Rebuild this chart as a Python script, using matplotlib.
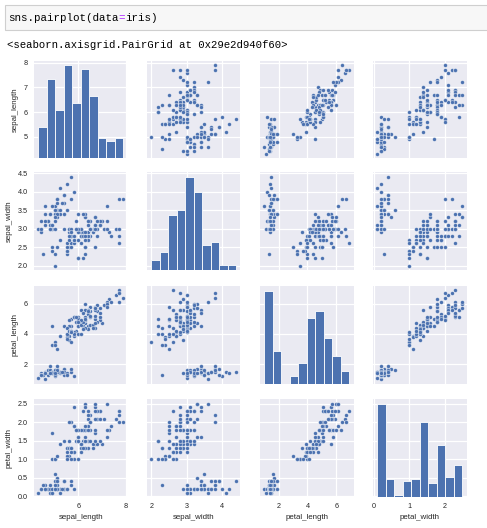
import numpy as np
import matplotlib
matplotlib.use("Agg")
import matplotlib.pyplot as plt
from matplotlib.patches import Rectangle
from matplotlib.ticker import FixedLocator

# ---------------- data (iris) ----------------
variables = ["sepal_length", "sepal_width", "petal_length", "petal_width"]

sepal_length = [
    5.1, 4.9, 4.7, 4.6, 5.0, 5.4, 4.6, 5.0, 4.4, 4.9, 5.4, 4.8, 4.8, 4.3, 5.8, 5.7, 5.4, 5.1, 5.7, 5.1,
    5.4, 5.1, 4.6, 5.1, 4.8, 5.0, 5.0, 5.2, 5.2, 4.7, 4.8, 5.4, 5.2, 5.5, 4.9, 5.0, 5.5, 4.9, 4.4, 5.1,
    5.0, 4.5, 4.4, 5.0, 5.1, 4.8, 5.1, 4.6, 5.3, 5.0,
    7.0, 6.4, 6.9, 5.5, 6.5, 5.7, 6.3, 4.9, 6.6, 5.2, 5.0, 5.9, 6.0, 6.1, 5.6, 6.7, 5.6, 5.8, 6.2, 5.6,
    5.9, 6.1, 6.3, 6.1, 6.4, 6.6, 6.8, 6.7, 6.0, 5.7, 5.5, 5.5, 5.8, 6.0, 5.4, 6.0, 6.7, 6.3, 5.6, 5.5,
    5.5, 6.1, 5.8, 5.0, 5.6, 5.7, 5.7, 6.2, 5.1, 5.7,
    6.3, 5.8, 7.1, 6.3, 6.5, 7.6, 4.9, 7.3, 6.7, 7.2, 6.5, 6.4, 6.8, 5.7, 5.8, 6.4, 6.5, 7.7, 7.7, 6.0,
    6.9, 5.6, 7.7, 6.3, 6.7, 7.2, 6.2, 6.1, 6.4, 7.2, 7.4, 7.9, 6.4, 6.3, 6.1, 7.7, 6.3, 6.4, 6.0, 6.9,
    6.7, 6.9, 5.8, 6.8, 6.7, 6.7, 6.3, 6.5, 6.2, 5.9,
]
sepal_width = [
    3.5, 3.0, 3.2, 3.1, 3.6, 3.9, 3.4, 3.4, 2.9, 3.1, 3.7, 3.4, 3.0, 3.0, 4.0, 4.4, 3.9, 3.5, 3.8, 3.8,
    3.4, 3.7, 3.6, 3.3, 3.4, 3.0, 3.4, 3.5, 3.4, 3.2, 3.1, 3.4, 4.1, 4.2, 3.1, 3.2, 3.5, 3.6, 3.0, 3.4,
    3.5, 2.3, 3.2, 3.5, 3.8, 3.0, 3.8, 3.2, 3.7, 3.3,
    3.2, 3.2, 3.1, 2.3, 2.8, 2.8, 3.3, 2.4, 2.9, 2.7, 2.0, 3.0, 2.2, 2.9, 2.9, 3.1, 3.0, 2.7, 2.2, 2.5,
    3.2, 2.8, 2.5, 2.8, 2.9, 3.0, 2.8, 3.0, 2.9, 2.6, 2.4, 2.4, 2.7, 2.7, 3.0, 3.4, 3.1, 2.3, 3.0, 2.5,
    2.6, 3.0, 2.6, 2.3, 2.7, 3.0, 2.9, 2.9, 2.5, 2.8,
    3.3, 2.7, 3.0, 2.9, 3.0, 3.0, 2.5, 2.9, 2.5, 3.6, 3.2, 2.7, 3.0, 2.5, 2.8, 3.2, 3.0, 3.8, 2.6, 2.2,
    3.2, 2.8, 2.8, 2.7, 3.3, 3.2, 2.8, 3.0, 2.8, 3.0, 2.8, 3.8, 2.8, 2.8, 2.6, 3.0, 3.4, 3.1, 3.0, 3.1,
    3.1, 3.1, 2.7, 3.2, 3.3, 3.0, 2.5, 3.0, 3.4, 3.0,
]
petal_length = [
    1.4, 1.4, 1.3, 1.5, 1.4, 1.7, 1.4, 1.5, 1.4, 1.5, 1.5, 1.6, 1.4, 1.1, 1.2, 1.5, 1.3, 1.4, 1.7, 1.5,
    1.7, 1.5, 1.0, 1.7, 1.9, 1.6, 1.6, 1.5, 1.4, 1.6, 1.6, 1.5, 1.5, 1.4, 1.5, 1.2, 1.3, 1.4, 1.3, 1.5,
    1.3, 1.3, 1.3, 1.6, 1.9, 1.4, 1.6, 1.4, 1.5, 1.4,
    4.7, 4.5, 4.9, 4.0, 4.6, 4.5, 4.7, 3.3, 4.6, 3.9, 3.5, 4.2, 4.0, 4.7, 3.6, 4.4, 4.5, 4.1, 4.5, 3.9,
    4.8, 4.0, 4.9, 4.7, 4.3, 4.4, 4.8, 5.0, 4.5, 3.5, 3.8, 3.7, 3.9, 5.1, 4.5, 4.5, 4.7, 4.4, 4.1, 4.0,
    4.4, 4.6, 4.0, 3.3, 4.2, 4.2, 4.2, 4.3, 3.0, 4.1,
    6.0, 5.1, 5.9, 5.6, 5.8, 6.6, 4.5, 6.3, 5.8, 6.1, 5.1, 5.3, 5.5, 5.0, 5.1, 5.3, 5.5, 6.7, 6.9, 5.0,
    5.7, 4.9, 6.7, 4.9, 5.7, 6.0, 4.8, 4.9, 5.6, 5.8, 6.1, 6.4, 5.6, 5.1, 5.6, 6.1, 5.6, 5.5, 4.8, 5.4,
    5.6, 5.1, 5.1, 5.9, 5.7, 5.2, 5.0, 5.2, 5.4, 5.1,
]
petal_width = [
    0.2, 0.2, 0.2, 0.2, 0.2, 0.4, 0.3, 0.2, 0.2, 0.1, 0.2, 0.2, 0.1, 0.1, 0.2, 0.4, 0.4, 0.3, 0.3, 0.3,
    0.2, 0.4, 0.2, 0.5, 0.2, 0.2, 0.4, 0.2, 0.2, 0.2, 0.2, 0.4, 0.1, 0.2, 0.2, 0.2, 0.2, 0.1, 0.2, 0.2,
    0.3, 0.3, 0.2, 0.6, 0.4, 0.3, 0.2, 0.2, 0.2, 0.2,
    1.4, 1.5, 1.5, 1.3, 1.5, 1.3, 1.6, 1.0, 1.3, 1.4, 1.0, 1.5, 1.0, 1.4, 1.3, 1.4, 1.5, 1.0, 1.5, 1.1,
    1.8, 1.3, 1.5, 1.2, 1.3, 1.4, 1.4, 1.7, 1.5, 1.0, 1.1, 1.0, 1.2, 1.6, 1.5, 1.6, 1.5, 1.3, 1.3, 1.3,
    1.2, 1.4, 1.2, 1.0, 1.3, 1.2, 1.3, 1.3, 1.1, 1.3,
    2.5, 1.9, 2.1, 1.8, 2.2, 2.1, 1.7, 1.8, 1.8, 2.5, 2.0, 1.9, 2.1, 2.0, 2.4, 2.3, 1.8, 2.2, 2.3, 1.5,
    2.3, 2.0, 2.0, 1.8, 2.1, 1.8, 1.8, 1.8, 2.1, 1.6, 1.9, 2.0, 2.2, 1.5, 1.4, 2.3, 2.4, 1.8, 1.8, 2.1,
    2.4, 2.3, 1.9, 2.3, 2.5, 2.3, 1.9, 2.0, 2.3, 1.8,
]

columns = {
    "sepal_length": sepal_length,
    "sepal_width": sepal_width,
    "petal_length": petal_length,
    "petal_width": petal_width,
}

x_ticks = {
    "sepal_length": [6, 8],
    "sepal_width": [2, 3, 4],
    "petal_length": [2, 4, 6],
    "petal_width": [0, 1, 2],
}
y_ticks = {
    "sepal_length": [5, 6, 7, 8],
    "sepal_width": [2.0, 2.5, 3.0, 3.5, 4.0, 4.5],
    "petal_length": [2, 4, 6],
    "petal_width": [0.0, 0.5, 1.0, 1.5, 2.0, 2.5],
}

code_text = ["sns.pairplot(data", "=", "iris)"]
output_text = "<seaborn.axisgrid.PairGrid at 0x29e2d940f60>"

# ---------------- style ----------------
W, H = 487, 528
DPI = 100
BLUE = "#4C72B0"
BG = "#EAEAF2"
TXT = "#262626"
plt.rcParams["font.family"] = ["Liberation Sans", "DejaVu Sans"]

fig = plt.figure(figsize=(W / DPI, H / DPI), dpi=DPI)
fig.patch.set_facecolor("white")

col_left = [34, 147, 260, 373]
row_top = [60.7, 172.3, 285.9, 399.3]
ax_w, ax_h = 93.5, 97.7

n = len(variables)
axes = [[None] * n for _ in range(n)]
for i in range(n):
    for j in range(n):
        rect = [col_left[j] / W, 1 - (row_top[i] + ax_h) / H, ax_w / W, ax_h / H]
        sx = axes[0][j] if i > 0 else None
        sy = axes[i][0] if j > 0 else None
        ax = fig.add_axes(rect, sharex=sx, sharey=sy)
        axes[i][j] = ax
        ax.set_facecolor(BG)
        for s in ax.spines.values():
            s.set_visible(False)
        ax.grid(True, color="white", linewidth=0.9)
        ax.set_axisbelow(True)
        ax.tick_params(length=0, pad=4.5, labelsize=5.2, labelcolor=TXT)

for i, yv in enumerate(variables):
    for j, xv in enumerate(variables):
        ax = axes[i][j]
        if i == j:
            tax = ax.twinx()
            tax.hist(columns[xv], bins=10, color=BLUE, edgecolor="white", linewidth=0.6)
            tax.set_axis_off()
        else:
            ax.scatter(columns[xv], columns[yv], s=8, color=BLUE,
                       edgecolor="white", linewidth=0.3, zorder=3)

for i, yv in enumerate(variables):
    for j, xv in enumerate(variables):
        ax = axes[i][j]
        ax.xaxis.set_major_locator(FixedLocator(x_ticks[xv]))
        ax.yaxis.set_major_locator(FixedLocator(y_ticks[yv]))
        ax.tick_params(labelleft=(j == 0), labelbottom=(i == n - 1))
        if j == 0:
            ax.set_ylabel(yv, fontsize=5.7, color=TXT, labelpad=3.5)
        if i == n - 1:
            ax.set_xlabel(xv, fontsize=5.7, color=TXT, labelpad=3)

# ---------------- notebook header ----------------
fig.patches.append(Rectangle((5 / W, 1 - 30 / H), 1.0, 25 / H, transform=fig.transFigure,
                             facecolor="#f7f7f7", edgecolor="#cfcfcf", linewidth=0.8))

mono = ["Liberation Mono", "DejaVu Sans Mono"]
renderer = fig.canvas.get_renderer()
x0 = 8.3
colors = ["#000000", "#AA22FF", "#000000"]
for part, c in zip(code_text, colors):
    t = fig.text(x0 / W, 1 - 17.8 / H, part, family=mono, fontsize=7.8, color=c,
                 ha="left", va="center")
    bb = t.get_window_extent(renderer)
    x0 += bb.width

fig.text(7.3 / W, 1 - 44.5 / H, output_text, family=mono, fontsize=7.7, color="#000000",
         ha="left", va="center")

fig.savefig("out.png", dpi=DPI, facecolor="white")
